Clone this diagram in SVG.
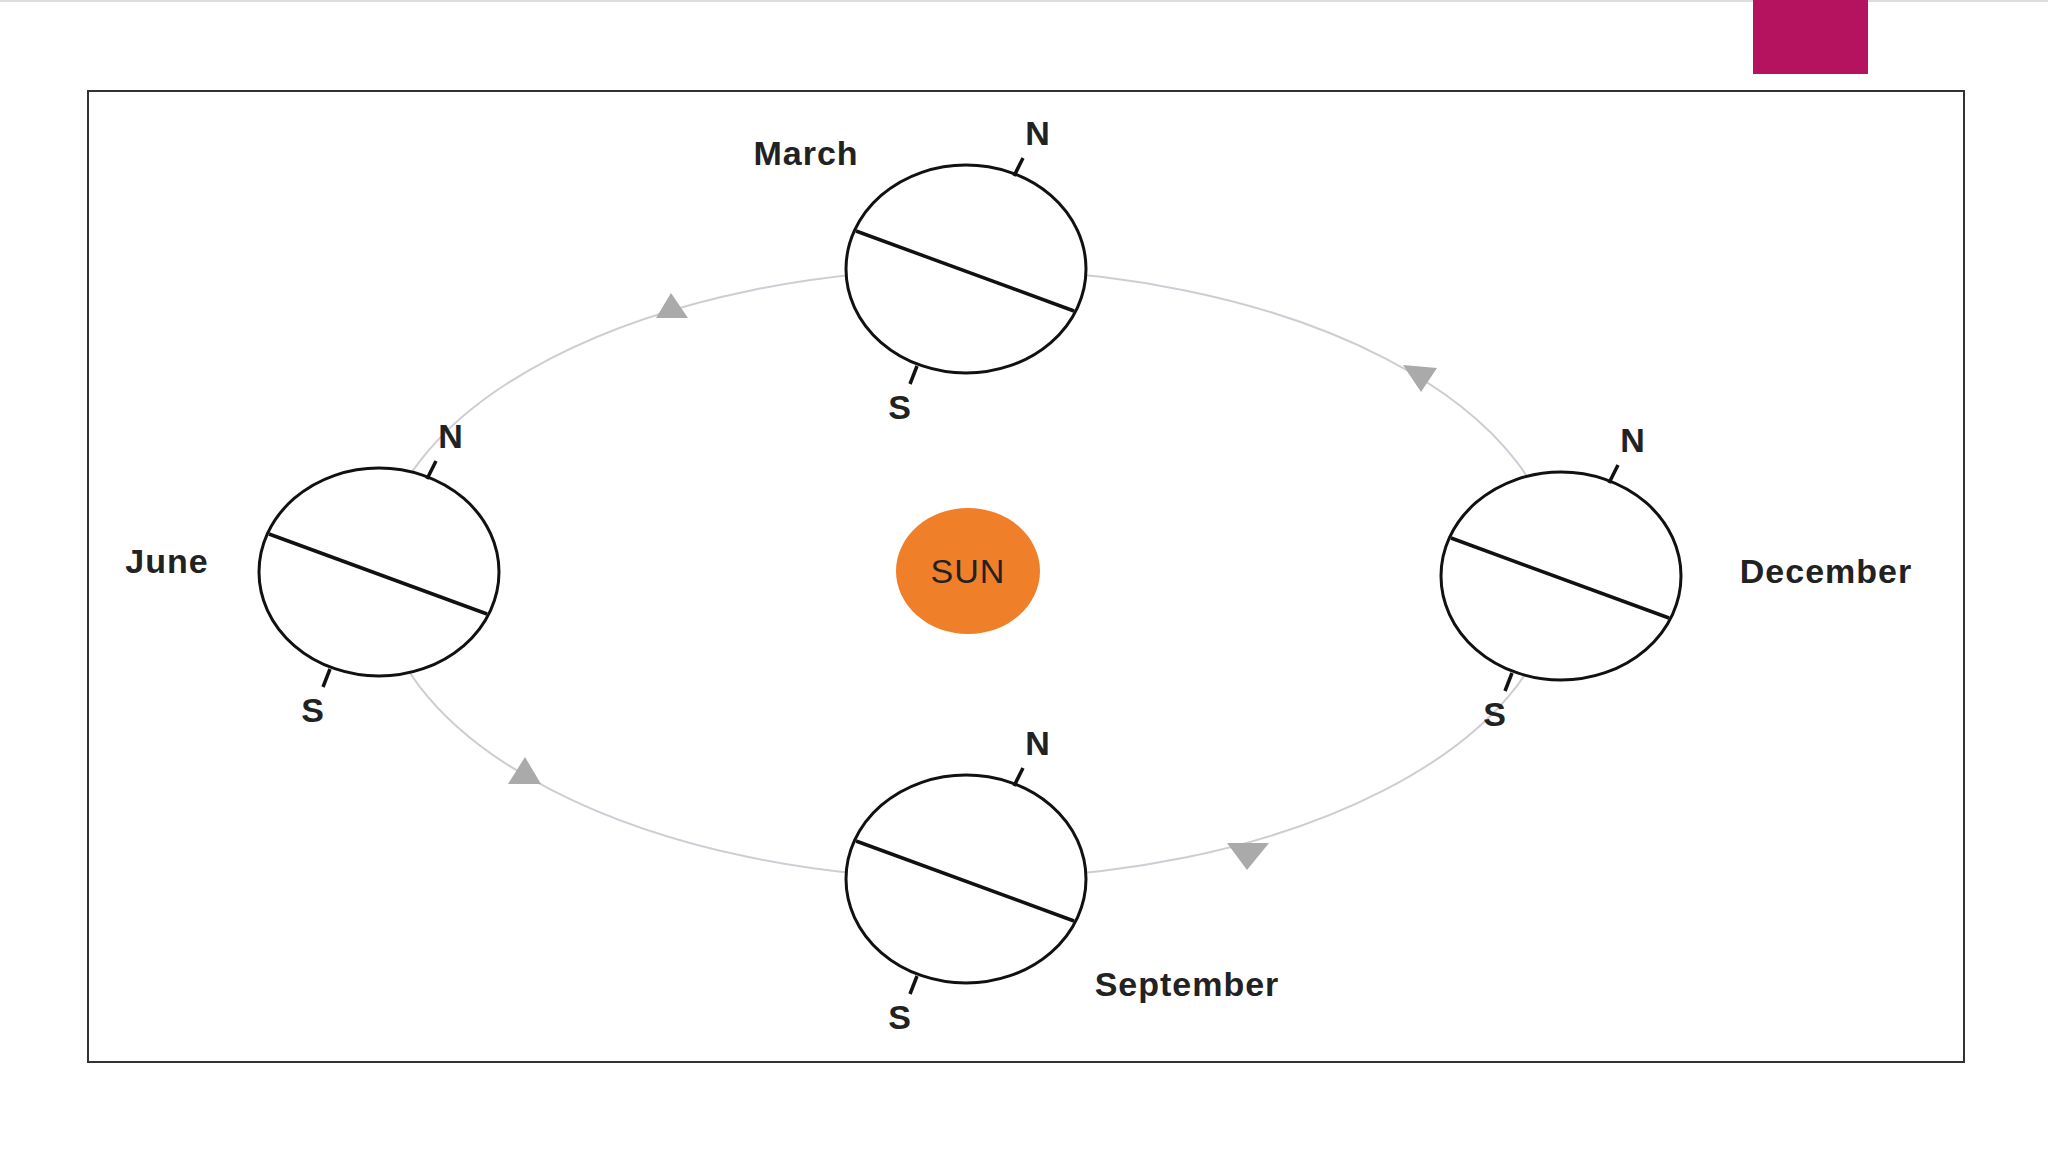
<svg xmlns="http://www.w3.org/2000/svg" width="2048" height="1152" viewBox="0 0 2048 1152">
<style>
.g{fill:#fff;stroke:#111;stroke-width:3}
.ax{stroke:#111;stroke-width:3.5}
.t{font-family:"Liberation Sans",Arial,sans-serif;font-weight:bold;font-size:34px;letter-spacing:1px;fill:#222}
.c{text-anchor:middle}
.ar{fill:#aaa}
</style>
<defs>
<g id="globe">
<ellipse class="g" cx="0" cy="0" rx="120" ry="104"/>
<line class="ax" x1="-110" y1="-38" x2="108" y2="42"/>
<line class="ax" x1="48" y1="-93" x2="57" y2="-111"/>
<line class="ax" x1="-49" y1="97" x2="-56" y2="115"/>
<text class="t c" x="72" y="-124">N</text>
<text class="t c" x="-66" y="150">S</text>
</g>
</defs>
<rect width="2048" height="1152" fill="#fff"/>
<line x1="0" y1="1" x2="2048" y2="1" stroke="#ddd" stroke-width="2"/>
<rect x="1753" y="0" width="115" height="74" fill="#b5135f"/>
<rect x="88" y="91" width="1876" height="971" fill="none" stroke="#333" stroke-width="2"/>
<g id="connectors">
<ellipse cx="968" cy="574" rx="590" ry="305" fill="none" stroke="#d0ccd4" stroke-width="2"/>
<polygon class="ar" points="671,293 656,318 688,318"/>
<polygon class="ar" points="1421,392 1403,365 1437,368"/>
<polygon class="ar" points="525,757 508,784 541,784"/>
<polygon class="ar" points="1247,870 1227,843 1269,843"/>
</g>
<g id="march"><use href="#globe" x="966" y="269"/><text class="t c" x="806" y="165">March</text></g>
<g id="june"><use href="#globe" x="379" y="572"/><text class="t c" x="167" y="573">June</text></g>
<g id="december"><use href="#globe" x="1561" y="576"/><text class="t c" x="1826" y="583">December</text></g>
<g id="september"><use href="#globe" x="966" y="879"/><text class="t c" x="1187" y="996">September</text></g>
<g id="sun"><ellipse cx="968" cy="571" rx="72" ry="63" fill="#f07f2a"/><text x="968" y="583" text-anchor="middle" font-family="Liberation Sans,Arial,sans-serif" font-size="34" font-weight="500" letter-spacing="1" fill="#222">SUN</text></g>
</svg>
